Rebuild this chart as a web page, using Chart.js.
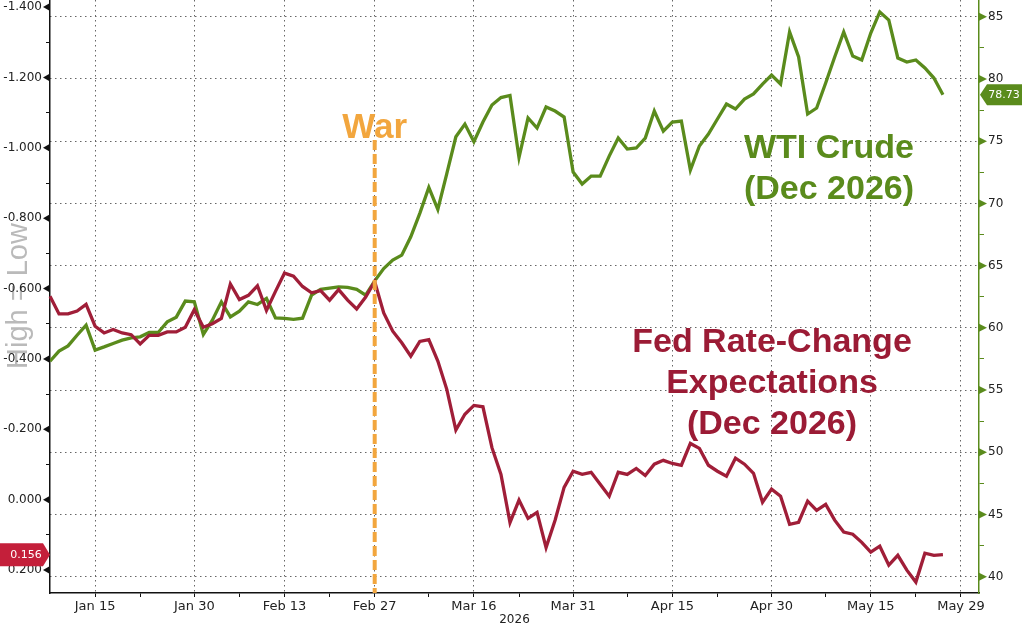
<!DOCTYPE html>
<html>
<head>
<meta charset="utf-8">
<script src="https://cdn.jsdelivr.net/npm/chart.js@4.4.1/dist/chart.umd.min.js"></script>
<style>
  html, body { margin: 0; padding: 0; background: #fff; }
  #chart { display: block; }
</style>
</head>
<body>
<canvas id="chart" width="1022" height="627"></canvas>
<script>
// trading days shown on the x axis (2026)
const dates = [
  'Jan 8', 'Jan 9',
  'Jan 12', 'Jan 13', 'Jan 14', 'Jan 15', 'Jan 16',
  'Jan 19', 'Jan 20', 'Jan 21', 'Jan 22', 'Jan 23',
  'Jan 26', 'Jan 27', 'Jan 28', 'Jan 29', 'Jan 30',
  'Feb 2', 'Feb 3', 'Feb 4', 'Feb 5', 'Feb 6',
  'Feb 9', 'Feb 10', 'Feb 11', 'Feb 12', 'Feb 13',
  'Feb 16', 'Feb 17', 'Feb 18', 'Feb 19', 'Feb 20',
  'Feb 23', 'Feb 24', 'Feb 25', 'Feb 26', 'Feb 27',
  'Mar 2', 'Mar 3', 'Mar 4', 'Mar 5', 'Mar 6',
  'Mar 9', 'Mar 10', 'Mar 11', 'Mar 12', 'Mar 13',
  'Mar 16', 'Mar 17', 'Mar 18', 'Mar 19', 'Mar 20',
  'Mar 23', 'Mar 24', 'Mar 25', 'Mar 26', 'Mar 27',
  'Mar 30', 'Mar 31', 'Apr 1', 'Apr 2', 'Apr 3',
  'Apr 6', 'Apr 7', 'Apr 8', 'Apr 9', 'Apr 10',
  'Apr 13', 'Apr 14', 'Apr 15', 'Apr 16', 'Apr 17',
  'Apr 20', 'Apr 21', 'Apr 22', 'Apr 23', 'Apr 24',
  'Apr 27', 'Apr 28', 'Apr 29', 'Apr 30', 'May 1',
  'May 4', 'May 5', 'May 6', 'May 7', 'May 8',
  'May 11', 'May 12', 'May 13', 'May 14', 'May 15',
  'May 18', 'May 19', 'May 20', 'May 21', 'May 22',
  'May 25', 'May 26', 'May 27', 'May 28', 'May 29',
  'Jun 1', 'Jun 2'
];

// Fed rate-change expectations, Dec 2026 (left axis, inverted)
const rateValues = [
  -0.578, -0.528, -0.528, -0.536, -0.555, -0.493, -0.474, -0.484, -0.474, -0.469,
  -0.443, -0.467, -0.467, -0.477, -0.477, -0.490, -0.540, -0.490, -0.500, -0.515,
  -0.613, -0.569, -0.581, -0.608, -0.538, -0.592, -0.644, -0.635, -0.606, -0.588,
  -0.594, -0.567, -0.597, -0.567, -0.542, -0.576, -0.620, -0.531, -0.479, -0.446,
  -0.408, -0.450, -0.455, -0.394, -0.313, -0.198, -0.243, -0.268, -0.264, -0.148,
  -0.072, 0.065, 0.001, 0.053, 0.036, 0.136, 0.058, -0.035, -0.081, -0.072,
  -0.078, -0.044, -0.010, -0.078, -0.072, -0.089, -0.069, -0.101, -0.112, -0.103,
  -0.098, -0.160, -0.146, -0.098, -0.081, -0.067, -0.118, -0.101, -0.075, 0.007,
  -0.030, -0.010, 0.070, 0.064, 0.004, 0.030, 0.013, 0.058, 0.092, 0.098,
  0.121, 0.149, 0.132, 0.186, 0.158, 0.200, 0.234, 0.152, 0.158, 0.156
];

// WTI crude, Dec 2026 contract (right axis)
const oilValues = [
  57.32, 58.13, 58.55, 59.41, 60.22, 58.21, 58.47, 58.75, 59.01, 59.20,
  59.28, 59.63, 59.63, 60.48, 60.86, 62.15, 62.09, 59.47, 60.62, 62.09,
  60.88, 61.34, 62.09, 61.88, 62.36, 60.80, 60.76, 60.68, 60.78, 62.63,
  63.09, 63.19, 63.30, 63.25, 63.09, 62.63, 63.78, 64.77, 65.44, 65.84,
  67.32, 69.20, 71.29, 69.52, 72.41, 75.35, 76.37, 74.95, 76.54, 77.90,
  78.50, 78.67, 73.68, 76.86, 76.05, 77.74, 77.42, 76.94, 72.52, 71.55,
  72.19, 72.19, 73.80, 75.25, 74.36, 74.45, 75.25, 77.42, 75.81, 76.54,
  76.62, 72.68, 74.61, 75.57, 76.78, 77.98, 77.58, 78.38, 78.79, 79.59,
  80.31, 79.59, 83.77, 81.76, 77.18, 77.66, 79.67, 81.76, 83.77, 81.84,
  81.52, 83.69, 85.38, 84.73, 81.68, 81.36, 81.52, 80.88, 80.07, 78.73
];

const dateTicks = ['Jan 15', 'Jan 30', 'Feb 13', 'Feb 27', 'Mar 16', 'Mar 31', 'Apr 15', 'Apr 30', 'May 15', 'May 29'];
const minorDateTicks = ['Jan 22', 'Feb 6', 'Feb 20', 'Mar 9', 'Mar 23', 'Apr 8', 'Apr 22', 'May 8', 'May 22'];
const rateTicks = [-1.4, -1.3, -1.2, -1.1, -1.0, -0.9, -0.8, -0.7, -0.6, -0.5, -0.4, -0.3, -0.2, -0.1, 0, 0.1, 0.2];
const oilTicks = [40, 42.5, 45, 47.5, 50, 52.5, 55, 57.5, 60, 62.5, 65, 67.5, 70, 72.5, 75, 77.5, 80, 82.5, 85];
const warDate = 'Feb 27';

const GREEN = '#5a8b1c';
const RED = '#a01e38';
const GRID = '#666';
const FONT = '"DejaVu Sans", Verdana, sans-serif';
const BOLD = '"Liberation Sans", Arial, sans-serif';

const isRateMajor = v => Math.abs(Math.round(v * 10)) % 2 === 0;
const isOilMajor = v => v % 5 === 0;

function triangle(ctx, x, y, w, color) {
    ctx.fillStyle = color;
    ctx.beginPath();
    ctx.moveTo(x, y - 4);
    ctx.lineTo(x + w, y);
    ctx.lineTo(x, y + 4);
    ctx.closePath();
    ctx.fill();
}

const decor = {
    id: 'decor',
    beforeDraw(chart) {
        const ctx = chart.ctx;
        ctx.save();
        ctx.fillStyle = '#bababa';
        ctx.font = '29px ' + BOLD;
        ctx.translate(27, 296);
        ctx.rotate(-Math.PI / 2);
        ctx.textAlign = 'center';
        ctx.textBaseline = 'alphabetic';
        ctx.fillText('High = Low', 0, 0);
        ctx.restore();
    },
    afterDatasetsDraw(chart) {
        const {ctx, chartArea, scales} = chart;
        const x = scales.x.getPixelForValue(dates.indexOf(warDate));
        const top = scales.oil.getPixelForValue(75.1);
        ctx.save();
        // war marker
        ctx.strokeStyle = '#f2a63e';
        ctx.lineWidth = 4;
        ctx.setLineDash([10, 4]);
        ctx.beginPath();
        ctx.moveTo(x, top);
        ctx.lineTo(x, chartArea.bottom);
        ctx.stroke();
        ctx.setLineDash([]);
        ctx.textAlign = 'center';
        ctx.textBaseline = 'alphabetic';
        ctx.fillStyle = '#f2a63e';
        ctx.font = 'bold 35px ' + BOLD;
        ctx.fillText('War', x, top - 2);

        // series captions
        ctx.font = 'bold 34px ' + BOLD;
        ctx.fillStyle = GREEN;
        ctx.fillText('WTI Crude', 829, 158);
        ctx.fillText('(Dec 2026)', 829, 199);
        ctx.fillStyle = '#9b1b35';
        ctx.fillText('Fed Rate-Change', 772, 352);
        ctx.fillText('Expectations', 772, 393);
        ctx.fillText('(Dec 2026)', 772, 434);
        ctx.restore();
    },
    afterDraw(chart) {
        const {ctx, scales} = chart;
        const rate = scales.rate, oil = scales.oil;
        ctx.save();
        rateTicks.filter(isRateMajor).forEach(v => {
            triangle(ctx, rate.right, rate.getPixelForValue(v), -7, '#111');
        });
        oilTicks.filter(isOilMajor).forEach(v => {
            triangle(ctx, oil.left, oil.getPixelForValue(v), 8, GREEN);
        });

        ctx.font = '11px ' + FONT;
        ctx.textAlign = 'center';
        ctx.textBaseline = 'middle';

        // last value tag, oil
        const lastOil = oilValues[oilValues.length - 1];
        let y = oil.getPixelForValue(lastOil);
        const ox = oil.left + 1;
        ctx.fillStyle = GREEN;
        ctx.beginPath();
        ctx.moveTo(ox, y);
        ctx.lineTo(ox + 7, y - 10.5);
        ctx.lineTo(chart.width, y - 10.5);
        ctx.lineTo(chart.width, y + 10.5);
        ctx.lineTo(ox + 7, y + 10.5);
        ctx.closePath();
        ctx.fill();
        ctx.fillStyle = '#fff';
        ctx.fillText(lastOil.toFixed(2), ox + 24, y + 0.5);

        // last value tag, rate
        const lastRate = rateValues[rateValues.length - 1];
        y = rate.getPixelForValue(lastRate);
        const rx = rate.right;
        ctx.fillStyle = '#c41f3a';
        ctx.beginPath();
        ctx.moveTo(0, y - 11.5);
        ctx.lineTo(rx - 7, y - 11.5);
        ctx.lineTo(rx, y);
        ctx.lineTo(rx - 7, y + 11.5);
        ctx.lineTo(0, y + 11.5);
        ctx.closePath();
        ctx.fill();
        ctx.fillStyle = '#fff';
        ctx.fillText(lastRate.toFixed(3), 26, y + 0.5);
        ctx.restore();
    }
};

new Chart(document.getElementById('chart'), {
    type: 'line',
    data: {
        labels: dates,
        datasets: [{
            label: 'Fed Rate-Change Expectations (Dec 2026)',
            data: rateValues,
            yAxisID: 'rate',
            borderColor: RED,
            borderWidth: 3.3,
            pointRadius: 0,
            tension: 0
        }, {
            label: 'WTI Crude (Dec 2026)',
            data: oilValues,
            yAxisID: 'oil',
            borderColor: GREEN,
            borderWidth: 3.3,
            pointRadius: 0,
            tension: 0
        }]
    },
    options: {
        responsive: false,
        animation: false,
        devicePixelRatio: 1,
        layout: { padding: 0 },
        plugins: {
            legend: { display: false },
            tooltip: { enabled: false }
        },
        scales: {
            x: {
                type: 'category',
                offset: false,
                grid: {
                    color: c => dateTicks.includes(dates[c.index]) ? GRID : 'transparent',
                    lineWidth: 1,
                    tickLength: 4,
                    tickWidth: 1,
                    tickColor: c => (dateTicks.includes(dates[c.index]) || minorDateTicks.includes(dates[c.index])) ? '#111' : 'transparent'
                },
                border: { color: '#111', width: 1.5, dash: [1.5, 3.5] },
                ticks: {
                    autoSkip: false,
                    maxRotation: 0,
                    minRotation: 0,
                    padding: 2,
                    color: '#222',
                    font: { family: FONT, size: 13 },
                    callback: (v, i) => dateTicks.includes(dates[i]) ? dates[i] : ''
                },
                title: {
                    display: true,
                    text: '2026',
                    color: '#222',
                    font: { family: FONT, size: 12 },
                    padding: { top: 0, bottom: 0 }
                },
                afterFit: s => { s.height = 34; s.paddingLeft = 0; s.paddingRight = 0; }
            },
            rate: {
                type: 'linear',
                position: 'left',
                reverse: true,
                min: -1.42,
                max: 0.265,
                afterBuildTicks: s => { s.ticks = rateTicks.map(v => ({ value: v })); },
                grid: {
                    drawOnChartArea: false,
                    tickLength: 4,
                    tickWidth: 1,
                    tickColor: c => isRateMajor(c.tick.value) ? 'transparent' : '#111'
                },
                border: { color: '#111', width: 1.5 },
                ticks: {
                    padding: 4,
                    color: '#222',
                    font: { family: FONT, size: 12 },
                    callback: v => isRateMajor(v) ? (Math.abs(v) < 1e-9 ? 0 : v).toFixed(3) : ''
                },
                afterFit: s => { s.width = 50; s.paddingTop = 0; s.paddingBottom = 0; }
            },
            oil: {
                type: 'linear',
                position: 'right',
                min: 38.7,
                max: 86.34,
                afterBuildTicks: s => { s.ticks = oilTicks.map(v => ({ value: v })); },
                grid: {
                    color: c => isOilMajor(c.tick.value) ? GRID : 'transparent',
                    lineWidth: 1,
                    tickLength: 5,
                    tickWidth: 1,
                    tickColor: c => isOilMajor(c.tick.value) ? 'transparent' : GREEN
                },
                border: { color: GREEN, width: 1.5, dash: [1.5, 3.5] },
                ticks: {
                    padding: 4,
                    color: '#222',
                    font: { family: FONT, size: 12 },
                    callback: v => isOilMajor(v) ? String(v) : ''
                },
                afterFit: s => { s.width = 43; s.paddingTop = 0; s.paddingBottom = 0; }
            }
        }
    },
    plugins: [decor]
});
</script>
</body>
</html>
